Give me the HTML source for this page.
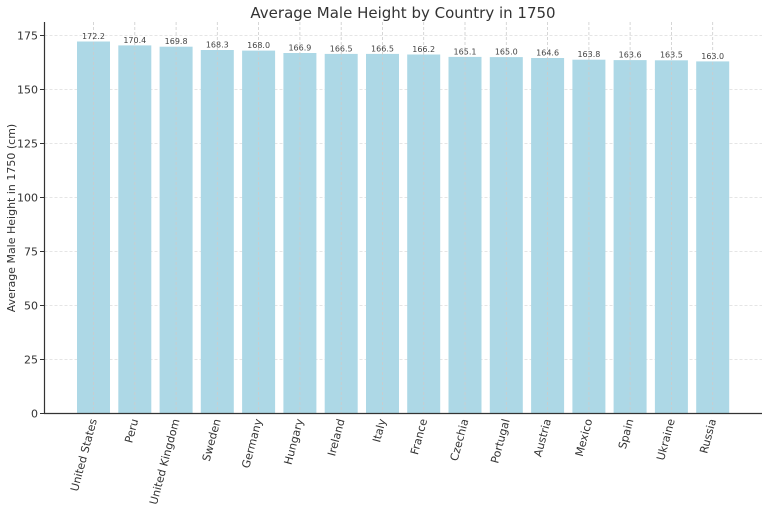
<!DOCTYPE html>
<html><head><meta charset="utf-8"><style>body{margin:0;background:#fff}</style></head><body>
<svg width="768" height="510" xmlns="http://www.w3.org/2000/svg" font-family="DejaVu Sans, Liberation Sans, sans-serif">
<rect width="768" height="510" fill="#fff"/>
<text x="403" y="18" font-size="15" text-anchor="middle" fill="#333">Average Male Height by Country in 1750</text>
<g stroke="#ddd" stroke-width="0.8" stroke-dasharray="3,2">
<line x1="44.5" x2="762" y1="359.5" y2="359.5"/><line x1="44.5" x2="762" y1="305.5" y2="305.5"/><line x1="44.5" x2="762" y1="251.5" y2="251.5"/><line x1="44.5" x2="762" y1="197.5" y2="197.5"/><line x1="44.5" x2="762" y1="143.5" y2="143.5"/><line x1="44.5" x2="762" y1="89.5" y2="89.5"/><line x1="44.5" x2="762" y1="35.5" y2="35.5"/>
</g>
<g fill="#add8e6">
<rect x="77" y="41.5" width="33" height="372"/>
<rect x="118.3" y="45.4" width="33" height="368.1"/>
<rect x="159.6" y="46.7" width="33" height="366.8"/>
<rect x="200.8" y="50" width="33" height="363.5"/>
<rect x="242.1" y="50.6" width="33" height="362.9"/>
<rect x="283.4" y="53" width="33" height="360.5"/>
<rect x="324.7" y="53.9" width="33" height="359.6"/>
<rect x="366" y="53.9" width="33" height="359.6"/>
<rect x="407.2" y="54.5" width="33" height="359"/>
<rect x="448.5" y="56.9" width="33" height="356.6"/>
<rect x="489.8" y="57.1" width="33" height="356.4"/>
<rect x="531.1" y="58" width="33" height="355.5"/>
<rect x="572.4" y="59.7" width="33" height="353.8"/>
<rect x="613.6" y="60.1" width="33" height="353.4"/>
<rect x="654.9" y="60.3" width="33" height="353.2"/>
<rect x="696.2" y="61.4" width="33" height="352.1"/>
</g>
<g stroke="#ccc" stroke-width="0.8" stroke-dasharray="3,2">
<line x1="93.5" x2="93.5" y1="22" y2="413"/><line x1="134.8" x2="134.8" y1="22" y2="413"/><line x1="176.1" x2="176.1" y1="22" y2="413"/><line x1="217.3" x2="217.3" y1="22" y2="413"/><line x1="258.6" x2="258.6" y1="22" y2="413"/><line x1="299.9" x2="299.9" y1="22" y2="413"/><line x1="341.2" x2="341.2" y1="22" y2="413"/><line x1="382.5" x2="382.5" y1="22" y2="413"/><line x1="423.7" x2="423.7" y1="22" y2="413"/><line x1="465" x2="465" y1="22" y2="413"/><line x1="506.3" x2="506.3" y1="22" y2="413"/><line x1="547.6" x2="547.6" y1="22" y2="413"/><line x1="588.9" x2="588.9" y1="22" y2="413"/><line x1="630.1" x2="630.1" y1="22" y2="413"/><line x1="671.4" x2="671.4" y1="22" y2="413"/><line x1="712.7" x2="712.7" y1="22" y2="413"/>
</g>
<g font-size="8" fill="#444" text-anchor="middle">
<text x="93.5" y="39">172.2</text><text x="134.8" y="43">170.4</text><text x="176.1" y="44">169.8</text><text x="217.3" y="47.5">168.3</text><text x="258.6" y="48">168.0</text><text x="299.9" y="50.5">166.9</text><text x="341.2" y="51.5">166.5</text><text x="382.5" y="51.5">166.5</text><text x="423.7" y="52">166.2</text><text x="465" y="54.5">165.1</text><text x="506.3" y="54.5">165.0</text><text x="547.6" y="55.5">164.6</text><text x="588.9" y="57">163.8</text><text x="630.1" y="57.5">163.6</text><text x="671.4" y="57.5">163.5</text><text x="712.7" y="59">163.0</text>
</g>
<g stroke="#333" stroke-width="1.2">
<line x1="44.5" x2="44.5" y1="22" y2="414"/><line x1="44" x2="762" y1="413.5" y2="413.5"/>
</g>
<g stroke="#333" stroke-width="1">
<line x1="40" x2="44.5" y1="413.5" y2="413.5"/><line x1="40" x2="44.5" y1="359.5" y2="359.5"/><line x1="40" x2="44.5" y1="305.5" y2="305.5"/><line x1="40" x2="44.5" y1="251.5" y2="251.5"/><line x1="40" x2="44.5" y1="197.5" y2="197.5"/><line x1="40" x2="44.5" y1="143.5" y2="143.5"/><line x1="40" x2="44.5" y1="89.5" y2="89.5"/><line x1="40" x2="44.5" y1="35.5" y2="35.5"/>
</g>
<g font-size="11" fill="#333" text-anchor="end">
<text x="38" y="417.5">0</text><text x="38" y="363.5">25</text><text x="38" y="309.5">50</text><text x="38" y="255.5">75</text><text x="38" y="201.5">100</text><text x="38" y="147.5">125</text><text x="38" y="93.5">150</text><text x="38" y="39.5">175</text>
</g>
<text transform="translate(15,218) rotate(-90)" font-size="11" fill="#333" text-anchor="middle">Average Male Height in 1750 (cm)</text>
<g font-size="11" fill="#333" text-anchor="end">
<text transform="translate(97,420) rotate(-75)">United States</text>
<text transform="translate(138.3,420) rotate(-75)">Peru</text>
<text transform="translate(179.6,420) rotate(-75)">United Kingdom</text>
<text transform="translate(220.8,420) rotate(-75)">Sweden</text>
<text transform="translate(262.1,420) rotate(-75)">Germany</text>
<text transform="translate(303.4,420) rotate(-75)">Hungary</text>
<text transform="translate(344.7,420) rotate(-75)">Ireland</text>
<text transform="translate(386,420) rotate(-75)">Italy</text>
<text transform="translate(427.2,420) rotate(-75)">France</text>
<text transform="translate(468.5,420) rotate(-75)">Czechia</text>
<text transform="translate(509.8,420) rotate(-75)">Portugal</text>
<text transform="translate(551.1,420) rotate(-75)">Austria</text>
<text transform="translate(592.4,420) rotate(-75)">Mexico</text>
<text transform="translate(633.6,420) rotate(-75)">Spain</text>
<text transform="translate(674.9,420) rotate(-75)">Ukraine</text>
<text transform="translate(716.2,420) rotate(-75)">Russia</text>
</g>
</svg>
</body></html>
